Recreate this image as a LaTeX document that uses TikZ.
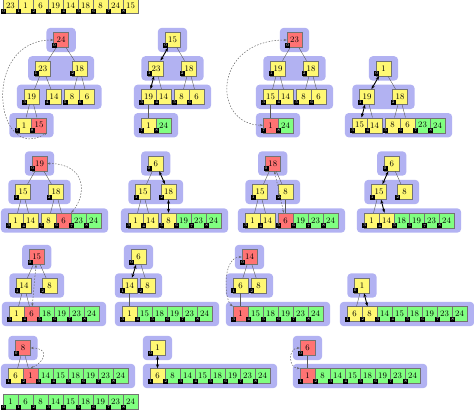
\documentclass[tikz,border=0pt]{standalone}
\usetikzlibrary{arrows.meta, fit, backgrounds, calc}
\definecolor{lvlblue}{RGB}{178,178,242}
\newcommand{\heapcell}[6]{ % args = name, x, y, value, index, style
	\node[#6] (#1) at (#2,#3) {#4}; % value box
	\node[idx] (#1i) at ([xshift=1pt, yshift=2.5pt]#1.south west) {#5}; % index tag
}

\begin{document}
\begin{tikzpicture}[x=1pt, y=-1pt,
	cell/.style={draw=black!55, fill=yellow!55, minimum width=15pt, minimum height=15pt, inner sep=0pt, font=\fontsize{8.5}{10}\selectfont},
	hot/.style={cell, fill=red!55},
	done/.style={cell, fill=green!50},
	idx/.style={fill=black, text=white, minimum size=5pt, inner sep=0pt, font=\fontsize{4}{4}\selectfont},
	lvl/.style={fill=lvlblue, draw=none, rounded corners=4pt, inner xsep=7pt, inner ysep=4.5pt},
	treeline/.style={draw=black!65, line width=0.4pt},
	swaparrow/.style={{Stealth[length=4pt]}-{Stealth[length=4pt]}, line width=0.9pt},
	swapdash/.style={{Stealth[length=3pt]}-{Stealth[length=3pt]}, draw=black!60, line width=0.5pt, dash pattern=on 1.5pt off 1.5pt}]
	\useasboundingbox (0,0) rectangle (474,416);
		% input array
		\foreach \v [count=\k from 0] in {23,1,6,19,14,18,8,24,15} {
			\heapcell{t\k}{10.5+15*\k}{6}{\v}{\k}{cell}
		};
		% row 1
		\foreach \k/\x/\y/\v/\s in {0/61.1/40/24/hot, 1/42.75/68.4/23/cell, 2/79.5/68.4/18/cell, 3/31.5/96.8/19/cell, 4/54/96.8/14/cell, 5/72/96.8/8/cell, 6/87/96.8/6/cell, 7/24/125.2/1/cell, 8/39/125.2/15/hot} {
			\heapcell{a\k}{\x}{\y}{\v}{\k}{\s}
		};
		\foreach \k/\x/\y/\v/\s in {0/172.5/40/15/cell, 1/156/68.4/23/cell, 2/189/68.4/18/cell, 3/148.5/96.8/19/cell, 4/163.5/96.8/14/cell, 5/181.5/96.8/8/cell, 6/196.5/96.8/6/cell, 7/148.5/125.2/1/cell, 8/163.5/125.2/24/done} {
			\heapcell{b\k}{\x}{\y}{\v}{\k}{\s}
		};
		\foreach \k/\x/\y/\v/\s in {0/294.5/40/23/hot, 1/278/68.4/19/cell, 2/311/68.4/18/cell, 3/270.5/96.8/15/cell, 4/285.5/96.8/14/cell, 5/303.5/96.8/8/cell, 6/318.5/96.8/6/cell, 7/270.5/125.2/1/hot, 8/285.5/125.2/24/done} {
			\heapcell{c\k}{\x}{\y}{\v}{\k}{\s}
		};
		\foreach \k/\x/\y/\v/\s in {0/383.5/68.4/1/cell, 1/367/96.8/19/cell, 2/400/96.8/18/cell, 3/359.5/125.2/15/cell, 4/374.5/125.2/14/cell, 5/392.5/125.2/8/cell, 6/407.5/125.2/6/cell, 7/422.5/125.2/23/done, 8/437.5/125.2/24/done} {
			\heapcell{d\k}{\x}{\y}{\v}{\k}{\s}
		};
		% row 2
		\foreach \k/\x/\y/\v/\s in {0/39.5/163.5/19/hot, 1/23/192/15/cell, 2/56/192/18/cell, 3/15.5/220.5/1/cell, 4/30.5/220.5/14/cell, 5/48.5/220.5/8/cell, 6/63.5/220.5/6/hot, 7/78.5/220.5/23/done, 8/93.5/220.5/24/done} {
			\heapcell{e\k}{\x}{\y}{\v}{\k}{\s}
		};
		\foreach \k/\x/\y/\v/\s in {0/155.75/163.5/6/cell, 1/143/192/15/cell, 2/168.5/192/18/cell, 3/135.5/220.5/1/cell, 4/150.5/220.5/14/cell, 5/168.5/220.5/8/cell, 6/183.5/220.5/19/done, 7/198.5/220.5/23/done, 8/213.5/220.5/24/done} {
			\heapcell{f\k}{\x}{\y}{\v}{\k}{\s}
		};
		\foreach \k/\x/\y/\v/\s in {0/272.75/163.5/18/hot, 1/260/192/15/cell, 2/285.5/192/8/cell, 3/252.5/220.5/1/cell, 4/267.5/220.5/14/cell, 5/285.5/220.5/6/hot, 6/300.5/220.5/19/done, 7/315.5/220.5/23/done, 8/330.5/220.5/24/done} {
			\heapcell{g\k}{\x}{\y}{\v}{\k}{\s}
		};
		\foreach \k/\x/\y/\v/\s in {0/391.75/163.5/6/cell, 1/379/192/15/cell, 2/404.5/192/8/cell, 3/371.5/220.5/1/cell, 4/386.5/220.5/14/cell, 5/401.5/220.5/18/done, 6/416.5/220.5/19/done, 7/431.5/220.5/23/done, 8/446.5/220.5/24/done} {
			\heapcell{h\k}{\x}{\y}{\v}{\k}{\s}
		};
		% row 3
		\foreach \k/\x/\y/\v/\s in {0/36.75/257/15/hot, 1/24/285.5/14/cell, 2/49.5/285.5/8/cell, 3/16.5/314/1/cell, 4/31.5/314/6/hot, 5/46.5/314/18/done, 6/61.5/314/19/done, 7/76.5/314/23/done, 8/91.5/314/24/done} {
			\heapcell{i\k}{\x}{\y}{\v}{\k}{\s}
		};
		\foreach \k/\x/\y/\v/\s in {0/138.5/257/6/cell, 1/129.5/285.5/14/cell, 2/147.5/285.5/8/cell, 3/129.5/314/1/cell, 4/144.5/314/15/done, 5/159.5/314/18/done, 6/174.5/314/19/done, 7/189.5/314/23/done, 8/204.5/314/24/done} {
			\heapcell{j\k}{\x}{\y}{\v}{\k}{\s}
		};
		\foreach \k/\x/\y/\v/\s in {0/249.5/257/14/hot, 1/240.5/285.5/6/cell, 2/258.5/285.5/8/cell, 3/240.5/314/1/hot, 4/255.5/314/15/done, 5/270.5/314/18/done, 6/285.5/314/19/done, 7/300.5/314/23/done, 8/315.5/314/24/done} {
			\heapcell{k\k}{\x}{\y}{\v}{\k}{\s}
		};
		\foreach \k/\x/\y/\v/\s in {0/362/285.5/1/cell, 1/354.5/314/6/cell, 2/369.5/314/8/cell, 3/384.5/314/14/done, 4/399.5/314/15/done, 5/414.5/314/18/done, 6/429.5/314/19/done, 7/444.5/314/23/done, 8/459.5/314/24/done} {
			\heapcell{l\k}{\x}{\y}{\v}{\k}{\s}
		};
		% row 4
		\foreach \k/\x/\y/\v/\s in {0/23/348/8/hot, 1/15.5/376/6/cell, 2/30.5/376/1/hot, 3/45.5/376/14/done, 4/60.5/376/15/done, 5/75.5/376/18/done, 6/90.5/376/19/done, 7/105.5/376/23/done, 8/120.5/376/24/done} {
			\heapcell{m\k}{\x}{\y}{\v}{\k}{\s}
		};
		\foreach \k/\x/\y/\v/\s in {0/157.5/348/1/cell, 1/157.5/376/6/cell, 2/172.5/376/8/done, 3/187.5/376/14/done, 4/202.5/376/15/done, 5/217.5/376/18/done, 6/232.5/376/19/done, 7/247.5/376/23/done, 8/262.5/376/24/done} {
			\heapcell{n\k}{\x}{\y}{\v}{\k}{\s}
		};
		\foreach \k/\x/\y/\v/\s in {0/307.5/348/6/hot, 1/307.5/376/1/hot, 2/322.5/376/8/done, 3/337.5/376/14/done, 4/352.5/376/15/done, 5/367.5/376/18/done, 6/382.5/376/19/done, 7/397.5/376/23/done, 8/412.5/376/24/done} {
			\heapcell{o\k}{\x}{\y}{\v}{\k}{\s}
		};
		% sorted array
		\foreach \v [count=\k from 0] in {1,6,8,14,15,18,19,23,24} {
			\heapcell{z\k}{10.5+15*\k}{402}{\v}{\k}{done}
		};

		% tree edges
		\foreach \i/\j in {0/1, 0/2, 1/3, 1/4, 2/5, 2/6, 3/7, 3/8} \draw[treeline] (a\i) -- (a\j);
		\foreach \i/\j in {0/2, 1/4, 2/5, 2/6, 3/7} \draw[treeline] (b\i) -- (b\j);
		\foreach \i/\j in {0/1, 0/2, 1/3, 1/4, 2/5, 2/6, 3/7} \draw[treeline] (c\i) -- (c\j);
		\foreach \i/\j in {0/2, 1/4, 2/5, 2/6} \draw[treeline] (d\i) -- (d\j);
		\foreach \i/\j in {0/1, 0/2, 1/3, 1/4, 2/5, 2/6} \draw[treeline] (e\i) -- (e\j);
		\foreach \i/\j in {0/1, 1/3, 1/4} \draw[treeline] (f\i) -- (f\j);
		\foreach \i/\j in {0/1, 0/2, 1/3, 1/4, 2/5} \draw[treeline] (g\i) -- (g\j);
		\foreach \i/\j in {0/2, 1/3} \draw[treeline] (h\i) -- (h\j);
		\foreach \i/\j in {0/1, 0/2, 1/3, 1/4} \draw[treeline] (i\i) -- (i\j);
		\foreach \i/\j in {0/2, 1/3} \draw[treeline] (j\i) -- (j\j);
		\foreach \i/\j in {0/1, 0/2, 1/3} \draw[treeline] (k\i) -- (k\j);
		\draw[treeline] (l0) -- (l1);
		\foreach \i/\j in {0/1, 0/2} \draw[treeline] (m\i) -- (m\j);
		\draw[treeline] (o0) -- (o1);

		% sift down swaps
		\foreach \p/\i/\j in {b/0/1, b/1/3, d/0/1, d/1/3, f/0/2, f/2/5, h/0/1, h/1/4, j/0/1, l/0/2, n/0/1} \draw[swaparrow] (\p\i) -- (\p\j);

		% root / last swaps
		\draw[swapdash] (a0.west) .. controls (-20,40) and (-5,165) .. (a8.south east);
		\draw[swapdash] (c0.west) .. controls (212,40) and (212,125) .. (c7.west);
		\draw[swapdash] (e0.east) .. controls (87,163.5) and (87,195) .. (e6.north east);
		\draw[swapdash] (g0) -- (g5);
		\draw[swapdash] (i0) -- (i4);
		\draw[swapdash] (k0.west) .. controls (222,257) and (224,300) .. (k3.north west);
		\draw[swapdash] (m0.east) .. controls (50,348) and (45,362) .. (m2.north);
		\draw[swapdash] (o0.west) .. controls (288,348) and (288,368) .. (o1.north west);

		% level backgrounds
		\begin{scope}[on background layer]
			\foreach \p in {a,b,c} {
				\node[lvl, fit=(\p0)] {};
				\node[lvl, fit=(\p1)(\p2)] {};
				\node[lvl, fit=(\p3)(\p6)] {};
				\node[lvl, fit=(\p7)(\p8)] {};
			};
			\foreach \p in {e,f,g,h,i,j,k} {
				\node[lvl, fit=(\p0)] {};
				\node[lvl, fit=(\p1)(\p2)] {};
				\node[lvl, fit=(\p3)(\p8)] {};
			};
			\node[lvl, fit=(d0)] {};
			\node[lvl, fit=(d1)(d2)] {};
			\node[lvl, fit=(d3)(d8)] {};
			\foreach \p in {l,m,n,o} {
				\node[lvl, fit=(\p0)] {};
				\node[lvl, fit=(\p1)(\p8)] {};
			};
		\end{scope}
	\end{tikzpicture}
\end{document}
